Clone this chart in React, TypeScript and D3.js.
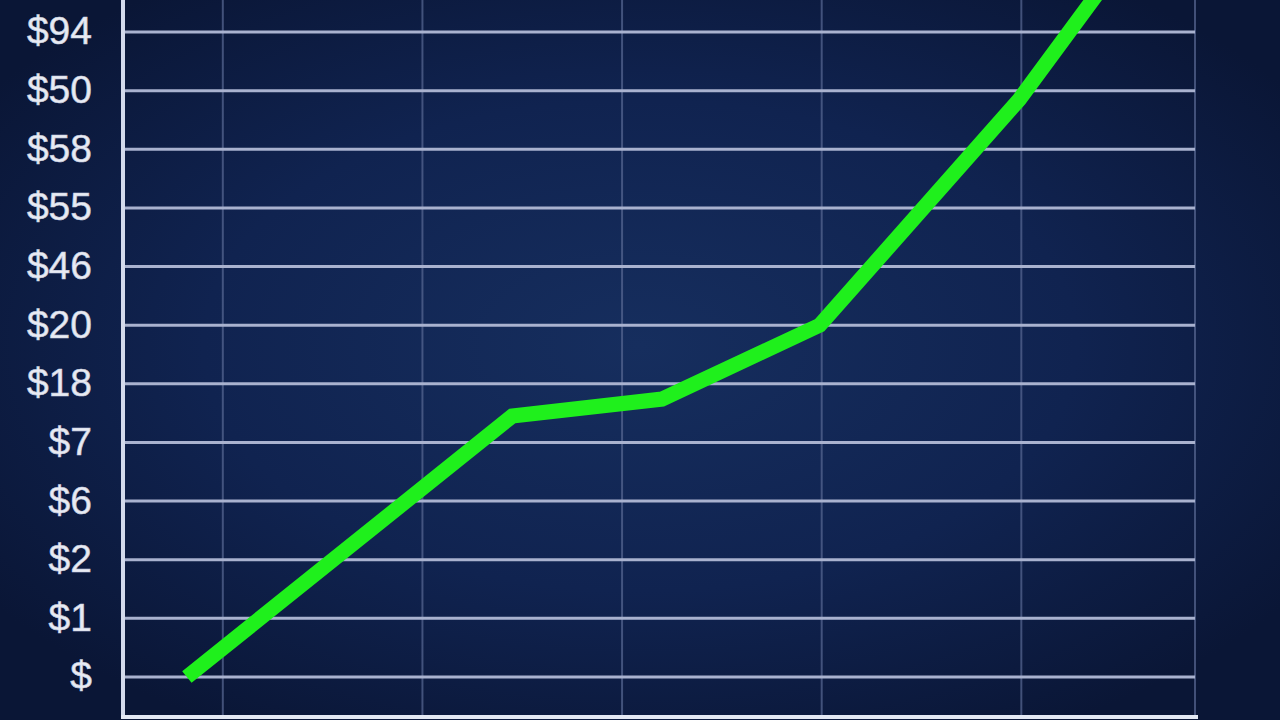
import * as d3 from "d3";
import { useEffect, useRef } from "react";

// y tick labels as printed, bottom to top (evenly spaced rows)
const yLabels = ["$", "$1", "$2", "$6", "$7", "$18", "$20", "$46", "$55", "$58", "$50", "$94"];

// vertical grid positions (x units)
const xTicks = [1, 2, 3, 4, 5];

// line series: x position and row position (in label-row units)
const seriesX = [0.82, 2.45, 3.2, 3.99, 4.99, 5.38];
const seriesY = [0, 4.45, 4.74, 6.0, 9.85, 11.65];

const W = 1280;
const H = 720;

export default function App() {
  const ref = useRef<SVGSVGElement>(null);

  useEffect(() => {
    document.body.style.margin = "0";
    if (!ref.current) return;
    const svg = d3.select(ref.current);
    svg.selectAll("*").remove();

    const left = 123;
    const right = 1195;
    const bottom = 717;

    const x = d3.scaleLinear().domain([0.5, 5.87]).range([left, right]);
    const y = d3.scaleLinear().domain([0, yLabels.length - 1]).range([677, 32]);

    const defs = svg.append("defs");
    const grad = defs
      .append("radialGradient")
      .attr("id", "bg")
      .attr("cx", "50%")
      .attr("cy", "48%")
      .attr("r", "62%");
    grad.append("stop").attr("offset", "0%").attr("stop-color", "#162e5e");
    grad.append("stop").attr("offset", "55%").attr("stop-color", "#102350");
    grad.append("stop").attr("offset", "100%").attr("stop-color", "#0a1636");

    defs
      .append("clipPath")
      .attr("id", "plot-clip")
      .append("rect")
      .attr("x", left)
      .attr("y", 0)
      .attr("width", right - left)
      .attr("height", bottom);

    svg.append("rect").attr("width", W).attr("height", H).attr("fill", "url(#bg)");

    // vertical grid
    svg
      .append("g")
      .selectAll("line")
      .data([...xTicks, 5.87])
      .join("line")
      .attr("x1", (d) => x(d))
      .attr("x2", (d) => x(d))
      .attr("y1", 0)
      .attr("y2", bottom)
      .attr("stroke", "#5a6994")
      .attr("stroke-opacity", 0.7)
      .attr("stroke-width", 2);

    // horizontal grid
    svg
      .append("g")
      .selectAll("line")
      .data(yLabels.map((_, i) => i))
      .join("line")
      .attr("x1", left)
      .attr("x2", right)
      .attr("y1", (d) => y(d))
      .attr("y2", (d) => y(d))
      .attr("stroke", "#a9b2cf")
      .attr("stroke-width", 3);

    // axes
    svg
      .append("line")
      .attr("x1", left)
      .attr("x2", left)
      .attr("y1", 0)
      .attr("y2", bottom + 2)
      .attr("stroke", "#d3daec")
      .attr("stroke-width", 4);
    svg
      .append("line")
      .attr("x1", left - 2)
      .attr("x2", right + 3)
      .attr("y1", bottom)
      .attr("y2", bottom)
      .attr("stroke", "#e4e9f4")
      .attr("stroke-width", 4);

    // y labels
    svg
      .append("g")
      .selectAll("text")
      .data(yLabels)
      .join("text")
      .attr("x", 92)
      .attr("y", (_, i) => y(i))
      .attr("dy", "0.32em")
      .attr("text-anchor", "end")
      .style("font-family", "'Liberation Sans', Arial, sans-serif")
      .style("font-size", "39px")
      .attr("fill", "#e8ebf3")
      .attr("stroke", "#c9cfe0")
      .attr("stroke-width", 0.6)
      .text((d) => d);

    // series line
    const pts = seriesX.map((v, i) => [v, seriesY[i]] as [number, number]);
    const line = d3
      .line<[number, number]>()
      .x((d) => x(d[0]))
      .y((d) => y(d[1]));
    svg
      .append("path")
      .attr("clip-path", "url(#plot-clip)")
      .attr("d", line(pts))
      .attr("fill", "none")
      .attr("stroke", "#1ff01c")
      .attr("stroke-width", 15)
      .attr("stroke-linejoin", "miter")
      .attr("stroke-linecap", "butt");
  }, []);

  return (
    <div style={{ position: "absolute", left: 0, top: 0, width: W, height: H }}>
      <svg ref={ref} width={W} height={H} viewBox={`0 0 ${W} ${H}`} style={{ display: "block" }} />
    </div>
  );
}
